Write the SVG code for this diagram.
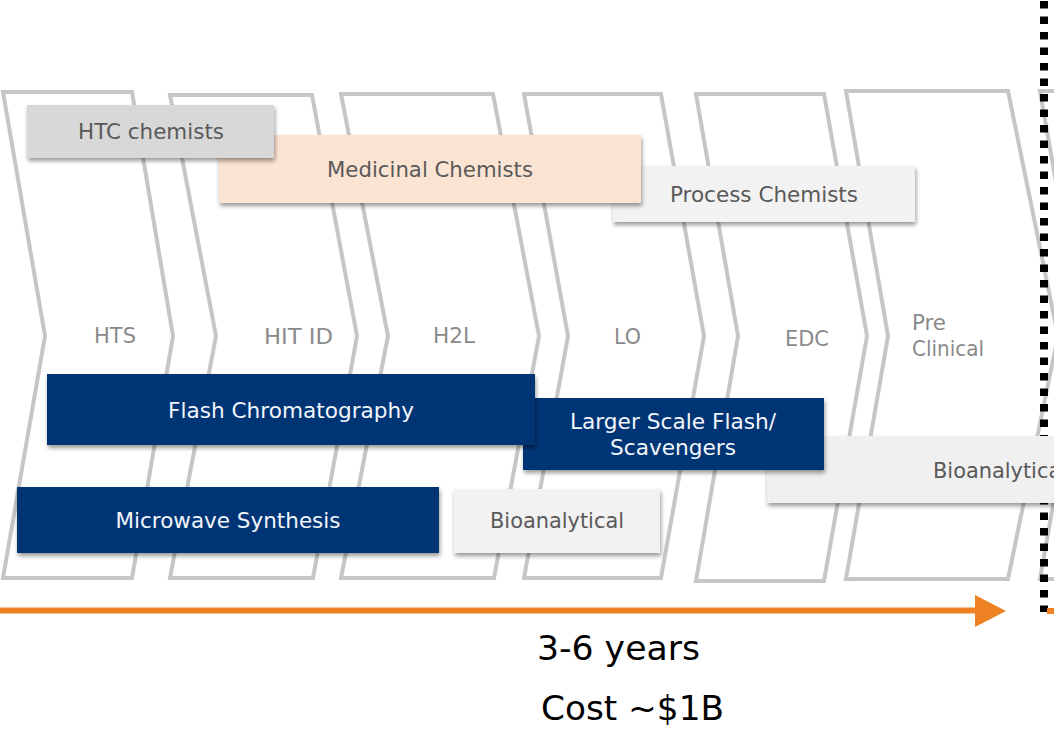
<svg xmlns="http://www.w3.org/2000/svg" width="1054" height="749" viewBox="0 0 1054 749">
<style>
text{font-family:"DejaVu Sans","Liberation Sans",sans-serif}
.ch{fill:#fff;stroke:#c6c6c6;stroke-width:4}
.box{filter:url(#sh)}
.lab{font-size:21px;fill:#8a8a8a}
.dk{font-size:21px;fill:#595959;text-anchor:middle}
.lt{font-size:21px;fill:#f2f6fb;text-anchor:middle}
.big{font-size:34px;fill:#000}
</style>
<defs>
<filter id="sh" x="-5%" y="-15%" width="110%" height="135%"><feDropShadow dx="1" dy="3" stdDeviation="2" flood-color="#000" flood-opacity="0.4"/></filter>
</defs>
<rect width="1054" height="749" fill="#fff"/>
<g id="stages">
<g id="stage-hts"><polygon class="ch" points="3,92 132,92 173,336 132,578 3,578 45,336"/><text class="lab" x="94" y="343" textLength="42" lengthAdjust="spacingAndGlyphs">HTS</text></g>
<g id="stage-hitid"><polygon class="ch" points="170,95 312,95 357,336 313,578 170,578 216,336"/><text class="lab" x="264" y="344" textLength="69" lengthAdjust="spacingAndGlyphs">HIT ID</text></g>
<g id="stage-h2l"><polygon class="ch" points="341,94 493,94 539,336 494,578 341,578 388,336"/><text class="lab" x="433" y="343" textLength="42" lengthAdjust="spacingAndGlyphs">H2L</text></g>
<g id="stage-lo"><polygon class="ch" points="524,94 661,94 704,336 661,578 524,578 568,336"/><text class="lab" x="614" y="344" textLength="27" lengthAdjust="spacingAndGlyphs">LO</text></g>
<g id="stage-edc"><polygon class="ch" points="696,94 824,94 867,336 824,581 696,581 738,336"/><text class="lab" x="785" y="346" textLength="44" lengthAdjust="spacingAndGlyphs">EDC</text></g>
<g id="stage-pre"><polygon class="ch" points="846,91 1008,91 1058,336 1008,579 846,579 888,336"/><text class="lab" x="912" y="330" textLength="34" lengthAdjust="spacingAndGlyphs">Pre</text><text class="lab" x="912" y="356" textLength="72" lengthAdjust="spacingAndGlyphs">Clinical</text></g>
<g id="stage-next"><polygon class="ch" points="1040,91 1110,91 1110,579 1040,579 1083,336"/></g>
</g>
<g id="connectors">
<line x1="1044" y1="1" x2="1044" y2="612" stroke="#000" stroke-width="8" stroke-dasharray="7.5 8"/>
<line x1="0" y1="610.500" x2="978" y2="610.500" stroke="#ee8122" stroke-width="6"/>
<polygon points="975,595 1006,611 975,627" fill="#ee8122"/>
<line x1="1047" y1="611" x2="1054" y2="611" stroke="#ee8122" stroke-width="6"/>
</g>
<g id="process-chemists"><rect class="box" x="613" y="166" width="302" height="56" fill="#f2f2f2"/><text class="dk" x="764" y="202" textLength="188" lengthAdjust="spacingAndGlyphs">Process Chemists</text></g>
<g id="medicinal-chemists"><rect class="box" x="219" y="135" width="422" height="68" fill="#fce4d3"/><text class="dk" x="430" y="177" textLength="206" lengthAdjust="spacingAndGlyphs">Medicinal Chemists</text></g>
<g id="htc-chemists"><rect class="box" x="27" y="105" width="247" height="53" fill="#d8d8d8"/><text class="dk" x="151" y="139" textLength="146" lengthAdjust="spacingAndGlyphs">HTC chemists</text></g>
<g id="bioanalytical-right"><rect class="box" x="767" y="436" width="300" height="67" fill="#f0f0f0"/><text class="dk" x="933" y="478" style="text-anchor:start" textLength="134" lengthAdjust="spacingAndGlyphs">Bioanalytical</text></g>
<g id="larger-scale"><rect class="box" x="523" y="398" width="301" height="72" fill="#003575"/><text class="lt" x="673" y="429" textLength="206" lengthAdjust="spacingAndGlyphs">Larger Scale Flash/</text><text class="lt" x="673" y="455" textLength="126" lengthAdjust="spacingAndGlyphs">Scavengers</text></g>
<g id="flash"><rect class="box" x="47" y="374" width="488" height="71" fill="#003575"/><text class="lt" x="291" y="418" textLength="246" lengthAdjust="spacingAndGlyphs">Flash Chromatography</text></g>
<g id="microwave"><rect class="box" x="17" y="487" width="422" height="66" fill="#003575"/><text class="lt" x="228" y="528" textLength="225" lengthAdjust="spacingAndGlyphs">Microwave Synthesis</text></g>
<g id="bioanalytical-left"><rect class="box" x="454" y="489" width="206" height="64" fill="#f2f2f2"/><text class="dk" x="557" y="528" textLength="134" lengthAdjust="spacingAndGlyphs">Bioanalytical</text></g>
<text class="big" x="537" y="660" textLength="163" lengthAdjust="spacingAndGlyphs">3-6 years</text>
<text class="big" x="541" y="720" textLength="183" lengthAdjust="spacingAndGlyphs">Cost ~$1B</text>
</svg>
